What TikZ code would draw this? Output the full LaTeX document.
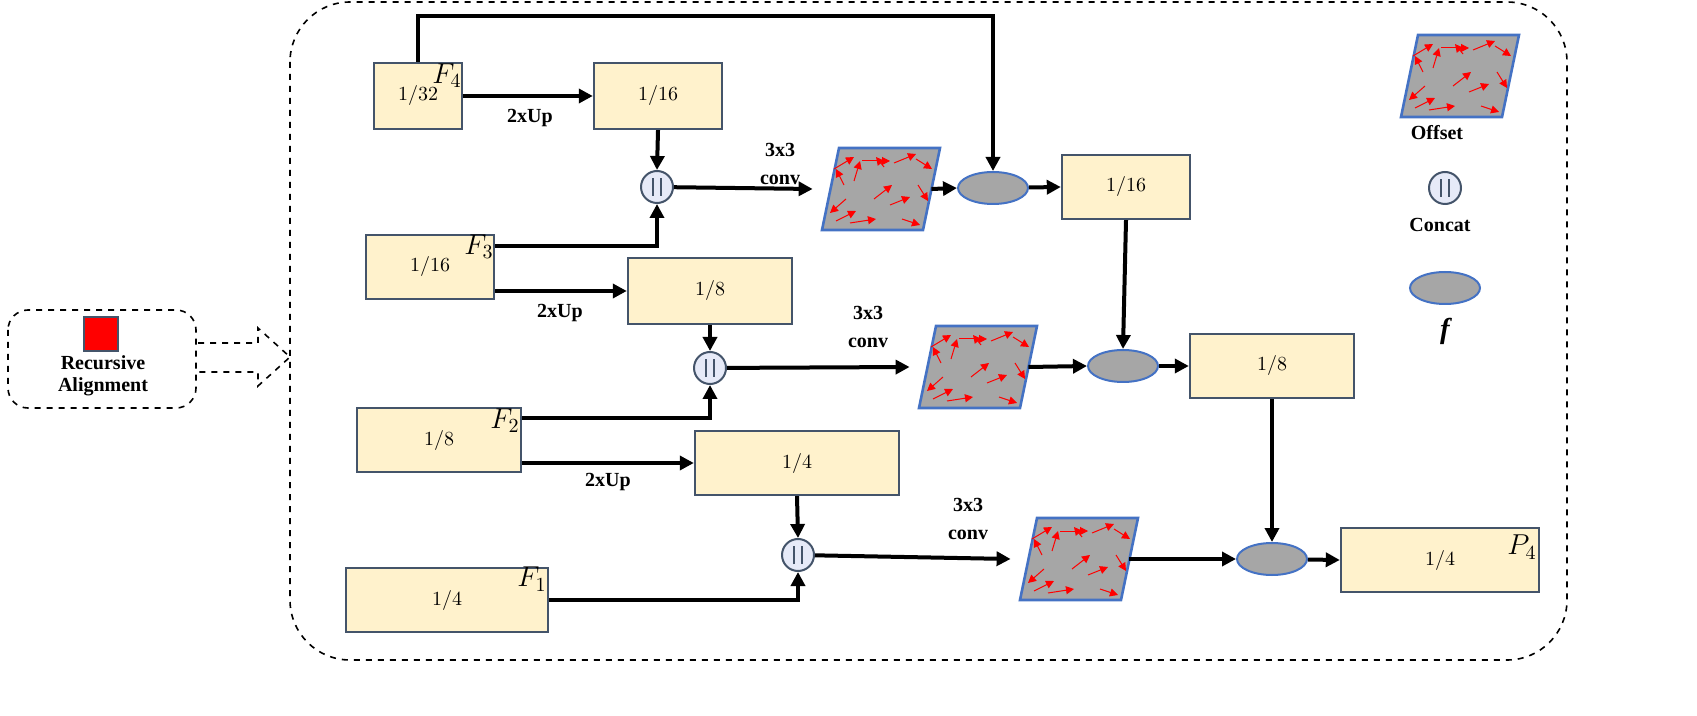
\documentclass[tikz,border=0pt]{standalone}
\usepackage{fontspec}
\newfontfamily\tms{Liberation Serif}
\usetikzlibrary{arrows.meta,calc,shapes.geometric}
\definecolor{boxfill}{HTML}{FFF2CC}
\definecolor{boxdraw}{HTML}{44546A}
\definecolor{offblue}{HTML}{4472C4}
\definecolor{offgray}{HTML}{A6A6A6}
\definecolor{catfill}{HTML}{E6EAF8}
\begin{document}
\begin{tikzpicture}[x=0.5pt,y=-0.5pt,
  box/.style={draw=boxdraw,fill=boxfill,line width=1.2pt,minimum width=#1,inner sep=0pt,font=\normalsize},
  arr/.style={-{Triangle[length=7pt,width=7pt]},line width=2pt},
  lab/.style={font=\tms\bfseries\normalsize,align=center,inner sep=0pt},
  flab/.style={font=\Large,inner sep=0pt},
  cat/.style={circle,draw=boxdraw,fill=catfill,line width=1pt,minimum size=16pt,inner sep=0pt,
    path picture={\draw[boxdraw,line width=1pt] ([xshift=-2pt,yshift=-4.5pt]path picture bounding box.center) -- ++(0,9pt)
      ([xshift=2pt,yshift=-4.5pt]path picture bounding box.center) -- ++(0,9pt);}},
  ell/.style={ellipse,draw=offblue,fill=offgray,line width=1pt,minimum width=35pt,minimum height=16pt,inner sep=0pt},
  ph/.style={minimum width=59pt,minimum height=41pt,inner sep=0pt},
  ra/.style={red,line width=0.5pt,-{Triangle[length=4pt,width=4pt]}}
]
\useasboundingbox (0,0) rectangle (1697,716);
\newcommand{\offsetshape}[1]{%
  \draw[offblue,fill=offgray,line width=1.3pt] ($(#1)+(-50,41)$) -- ($(#1)+(-33,-41)$) -- ($(#1)+(68,-41)$) -- ($(#1)+(51,41)$) -- cycle;
  \foreach \a/\b/\c/\d in {-38/-20/-18/-32, -10/-28/18/-28, 22/-26/44/-35, 44/-30/60/-20, -28/-4/-36/-20, -18/-8/-12/-28,
     -26/10/-42/24, -36/32/-16/22, 12/-22/4/-32, 2/10/20/-4, 18/16/38/8, 46/-4/56/12, -22/34/4/30, 30/30/48/36}
    \draw[ra] ($(#1)+(\a,\b)$) -- ($(#1)+(\c,\d)$);}
% outer frames
\draw[dashed,line width=0.8pt,rounded corners=30pt] (290,2) rectangle (1567,660);
\draw[dashed,line width=0.8pt,rounded corners=10pt] (8,310) rectangle (196,408);
\node[draw=boxdraw,fill=red,line width=1pt,minimum size=17pt,inner sep=0pt] (rsq) at (101,334) {};
\node[lab] (ra) at (103,376) {Recursive\\[-1pt]Alignment};
\draw[dashed,line width=0.8pt] (198,343) -- (258,343) -- (258,328) -- (290,357) -- (258,386) -- (258,372) -- (198,372);
% boxes
\node[box=44pt,minimum height=33pt] (F4) at (418,96) {$1/32$};
\node[box=64pt,minimum height=33pt] (B16a) at (658,96) {$1/16$};
\node[box=64pt,minimum height=32pt] (F3) at (430,267) {$1/16$};
\node[box=82pt,minimum height=33pt] (B8a) at (710,291) {$1/8$};
\node[box=82pt,minimum height=32pt] (F2) at (439,440) {$1/8$};
\node[box=102pt,minimum height=32pt] (B4a) at (797,463) {$1/4$};
\node[box=101pt,minimum height=32pt] (F1) at (447,600) {$1/4$};
\node[box=64pt,minimum height=32pt] (B16o) at (1126,187) {$1/16$};
\node[box=82pt,minimum height=32pt] (B8o) at (1272,366) {$1/8$};
\node[box=99pt,minimum height=32pt] (P4) at (1440,560) {$1/4$};
\node[flab] (lF4) at (447,76) {$F_4$};
\node[flab] (lF3) at (479,247) {$F_3$};
\node[flab] (lF2) at (505,421) {$F_2$};
\node[flab] (lF1) at (532,579) {$F_1$};
\node[flab] (lP4) at (1522,547) {$P_4$};
% concats, offsets, ellipses
\node[cat] (c1) at (657,187) {};
\node[cat] (c2) at (710,368) {};
\node[cat] (c3) at (798,555) {};
\node[ph] (o1) at (872,189) {};
\node[ph] (o2) at (969,367) {};
\node[ph] (o3) at (1070,559) {};
\offsetshape{o1}\offsetshape{o2}\offsetshape{o3}
\node[ell] (e1) at (993,188) {};
\node[ell] (e2) at (1123,366) {};
\node[ell] (e3) at (1272,559) {};
% legend
\node[ph] (lo) at (1451,76) {};
\offsetshape{lo}
\node[lab] (tlo) at (1437,133) {Offset};
\node[cat] (lc) at (1445,188) {};
\node[lab] (tlc) at (1440,225) {Concat};
\node[ell] (le) at (1445,288) {};
\node[font=\tms\bfseries\itshape\Large,inner sep=0pt] (tle) at (1445,331) {f};
% labels
\node[lab] (u1) at (530,118) {2xUp};
\node[lab] (u2) at (560,313) {2xUp};
\node[lab] (u3) at (608,482) {2xUp};
\node[lab] (k1) at (780,164) {3x3\\[2pt]conv};
\node[lab] (k2) at (868,327) {3x3\\[2pt]conv};
\node[lab] (k3) at (968,519) {3x3\\[2pt]conv};
% connectors
\draw[arr] (F4) -- (B16a);
\draw[arr] (F4.north) -- ++(0,-46) -| (e1.north);
\draw[arr] (B16a.south) -- (c1.north);
\draw[arr] ($(F3.north east)+(0,12)$) -| (c1.south);
\draw[arr] (F3.east|-B8a) -- (B8a.west);
\draw[arr] (c1) -- (o1.west);
\draw[arr] (o1.east) -- (e1.west);
\draw[arr] (e1) -- (B16o.west);
\draw[arr] (B16o.south) -- (e2.north);
\draw[arr] (B8a.south) -- (c2.north);
\draw[arr] ($(F2.north east)+(0,11)$) -| (c2.south);
\draw[arr] (F2.east|-B4a) -- (B4a.west);
\draw[arr] (c2) -- (o2.west);
\draw[arr] (o2.east) -- (e2.west);
\draw[arr] (e2) -- (B8o.west);
\draw[arr] (B8o.south) -- (e3.north);
\draw[arr] (B4a.south) -- (c3.north);
\draw[arr] (F1.east) -| (c3.south);
\draw[arr] (c3) -- (o3.west);
\draw[arr] (o3.east) -- (e3.west);
\draw[arr] (e3) -- (P4.west);
\end{tikzpicture}
\end{document}
